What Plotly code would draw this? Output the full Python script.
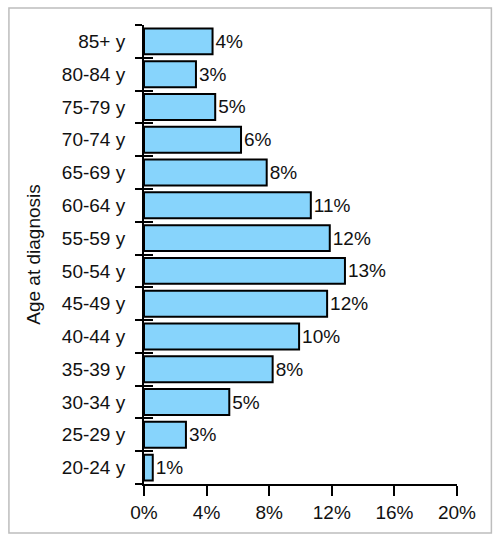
import plotly.graph_objects as go

categories = ["20-24 y", "25-29 y", "30-34 y", "35-39 y", "40-44 y", "45-49 y", "50-54 y",
              "55-59 y", "60-64 y", "65-69 y", "70-74 y", "75-79 y", "80-84 y", "85+ y"]
values = [0.56, 2.68, 5.45, 8.22, 9.91, 11.7, 12.84, 11.87, 10.66, 7.84, 6.2, 4.55, 3.32, 4.38]
labels = [f"{round(v)}%" for v in values]
x_ticks = [0, 4, 8, 12, 16, 20]
x_ticktext = [f"{t}%" for t in x_ticks]

FONT = "Liberation Sans, Arial, sans-serif"
FS = 19
W, H = 500, 542
ml, mr, mt, mb = 143.5, 42.5, 25, 58
pw, ph = W - ml - mr, H - mt - mb

fig = go.Figure()
fig.add_trace(go.Bar(
    y=categories, x=values, orientation="h",
    marker=dict(color="#87D4FC", line=dict(color="black", width=2)),
    text=labels, textposition="outside", cliponaxis=False,
    textfont=dict(family=FONT, size=FS, color="#111"),
    width=0.79, showlegend=False, hoverinfo="skip",
))

n = len(categories)
fig.update_layout(
    width=W, height=H,
    margin=dict(l=ml, r=mr, t=mt, b=mb, pad=0),
    paper_bgcolor="white", plot_bgcolor="white",
    font=dict(family=FONT, size=FS, color="#111"),
    uniformtext=dict(minsize=FS, mode="show"),
    xaxis=dict(range=[0, 20], tickmode="array", tickvals=x_ticks, ticktext=x_ticktext,
               showgrid=False, zeroline=False, showline=True, linecolor="black", linewidth=2,
               ticks="outside", ticklen=10, tickwidth=2, tickcolor="black",
               tickfont=dict(size=FS, family=FONT, color="#111")),
    yaxis=dict(type="category", categoryorder="array", categoryarray=categories,
               range=[-0.5, n - 0.5], tickson="boundaries",
               showgrid=False, zeroline=False, showline=True, linecolor="black", linewidth=2,
               ticks="outside", ticklen=7, tickwidth=2, tickcolor="black",
               ticklabelstandoff=13,
               tickfont=dict(size=FS, family=FONT, color="#111")),
    yaxis2=dict(overlaying="y", anchor="x", range=[-0.5, n - 0.5],
                tickvals=[i - 0.5 for i in range(n + 1)],
                showticklabels=False, showgrid=False, zeroline=False, showline=False,
                ticks="inside", ticklen=9, tickwidth=2, tickcolor="black"),
)
fig.update_yaxes(selector=dict(type="category"))
fig.layout.yaxis.title = dict(text="Age at diagnosis", standoff=16,
                              font=dict(size=FS, family=FONT, color="#111"))
fig.add_trace(go.Scatter(x=[None], y=[None], yaxis="y2", showlegend=False, hoverinfo="skip"))

# outer frame
fig.add_shape(type="rect", xref="paper", yref="paper",
              x0=(8 - ml) / pw, x1=(492 - ml) / pw,
              y0=(H - 533 - mb) / ph, y1=(H - 8 - mb) / ph,
              line=dict(color="#BDBDBD", width=1.5), layer="below")

fig.write_html("out.html")
